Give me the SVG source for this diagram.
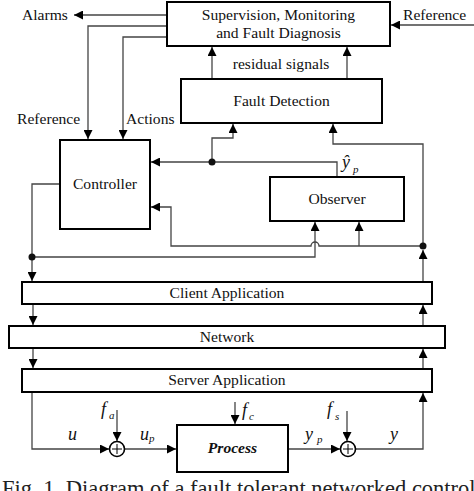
<svg xmlns="http://www.w3.org/2000/svg" width="474" height="491" viewBox="0 0 474 491">
<defs>
<marker id="ah" markerUnits="userSpaceOnUse" markerWidth="10" markerHeight="9" refX="9" refY="4.5" orient="auto">
<path d="M0,0 L9,4.5 L0,9 z" fill="#000"/>
</marker>
<style>
.box{fill:#fff;stroke:#000;stroke-width:2}
.t{font-family:"Liberation Serif","Times New Roman",serif;font-size:15.6px;fill:#111;text-anchor:middle}
.tl{font-family:"Liberation Serif","Times New Roman",serif;font-size:15.6px;fill:#111}
.m{font-family:"Liberation Serif","Times New Roman",serif;font-style:italic;font-size:18px;fill:#111}
.s{font-family:"Liberation Serif","Times New Roman",serif;font-style:italic;font-size:11px;fill:#111}
.c{fill:none;stroke:#444;stroke-width:1.3}
.a{marker-end:url(#ah)}
.dot{fill:#111}
.sum{fill:#fff;stroke:#000;stroke-width:1.6}
</style>
</defs>
<rect width="474" height="491" fill="#fff"/>

<g id="connectors">
<path class="c a" d="M167,15 H74"/>
<path class="c a" d="M474,25 H391"/>
<path class="c a" d="M167,26 H88 V139"/>
<path class="c a" d="M167,37 H123 V139"/>
<path class="c a" d="M212,79 V47"/>
<path class="c a" d="M347,79 V47"/>
<path class="c a" d="M212,162 V138 H233 V124"/>
<path class="c a" d="M337,177 V162 H151"/>
<path class="c a" d="M423,246 V144 H333 V124"/>
<path class="c a" d="M423,282 V250"/>
<path class="c a" d="M423,246 H319 A4,4 0 0 0 311,246 H171 V207 H151"/>
<path class="c a" d="M359,246 V222"/>
<path class="c a" d="M32,257 H315 V222"/>
<path class="c a" d="M60,184 H32 V281"/>
<path class="c a" d="M33,304 V325"/>
<path class="c a" d="M33,348 V368"/>
<path class="c a" d="M423,369 V349"/>
<path class="c a" d="M423,326 V305"/>
<path class="c a" d="M32,392 V449 H109"/>
<path class="c a" d="M125,449 H176"/>
<path class="c a" d="M288,449 H340"/>
<path class="c a" d="M356,449 H423 V393"/>
<path class="c a" d="M117,410 V441"/>
<path class="c a" d="M235,402 V424"/>
<path class="c a" d="M347,411 V441"/>
<circle class="dot" cx="212" cy="162" r="3.5"/>
<circle class="dot" cx="423" cy="246" r="3.5"/>
<circle class="dot" cx="32" cy="257" r="3.5"/>
</g>

<g id="supervision">
<rect class="box" x="167" y="2" width="223" height="44"/>
<text class="t" x="278.5" y="20">Supervision, Monitoring</text>
<text class="t" x="278.5" y="38">and Fault Diagnosis</text>
</g>
<g id="alarms-label"><text class="tl" x="22" y="20">Alarms</text></g>
<g id="reference-in-label"><text class="tl" x="403" y="20">Reference</text></g>
<g id="reference-label"><text class="tl" x="17" y="124">Reference</text></g>
<g id="actions-label"><text class="tl" x="126" y="124">Actions</text></g>
<g id="residual-label"><text class="t" x="281" y="69">residual signals</text></g>

<g id="fault-detection">
<rect class="box" x="181" y="79" width="201" height="44"/>
<text class="t" x="281.5" y="106">Fault Detection</text>
</g>

<g id="controller">
<rect class="box" x="60" y="140" width="90" height="89"/>
<text class="t" x="105" y="189">Controller</text>
</g>

<g id="observer">
<rect class="box" x="270" y="177" width="134" height="44"/>
<text class="t" x="337" y="204">Observer</text>
</g>
<g id="yhat-label">
<text class="m" x="342" y="168">ŷ</text><text class="s" x="353" y="173">p</text>
</g>

<g id="client-application">
<rect class="box" x="22" y="282" width="410" height="22"/>
<text class="t" x="227" y="298">Client Application</text>
</g>
<g id="network">
<rect class="box" x="9" y="326" width="436" height="22"/>
<text class="t" x="227" y="342">Network</text>
</g>
<g id="server-application">
<rect class="box" x="22" y="369" width="410" height="23"/>
<text class="t" x="227" y="385">Server Application</text>
</g>

<g id="sum-actuator">
<circle class="sum" cx="117" cy="449" r="7.5"/>
<path d="M112,449 H122 M117,444 V454" stroke="#000" stroke-width="1"/>
</g>
<g id="sum-sensor">
<circle class="sum" cx="348" cy="449" r="7.5"/>
<path d="M343,449 H353 M348,444 V454" stroke="#000" stroke-width="1"/>
</g>

<g id="process">
<rect class="box" x="177" y="425" width="111" height="47"/>
<text class="t" x="232.5" y="453" style="font-weight:bold;font-style:italic">Process</text>
</g>

<g id="signal-labels">
<text class="m" x="68" y="440">u</text>
<text class="m" x="140" y="440">u</text><text class="s" x="149" y="442">p</text>
<text class="m" x="101" y="415">f</text><text class="s" x="109" y="419">a</text>
<text class="m" x="242" y="416">f</text><text class="s" x="249" y="420">c</text>
<text class="m" x="327" y="415">f</text><text class="s" x="335" y="420">s</text>
<text class="m" x="305" y="440">y</text><text class="s" x="317" y="443">p</text>
<text class="m" x="390" y="440">y</text>
</g>

<g id="caption">
<text x="2" y="496" style="font-family:'Liberation Serif','Times New Roman',serif;font-size:22.5px;fill:#222">Fig. 1. Diagram of a fault tolerant networked control</text>
</g>
</svg>
